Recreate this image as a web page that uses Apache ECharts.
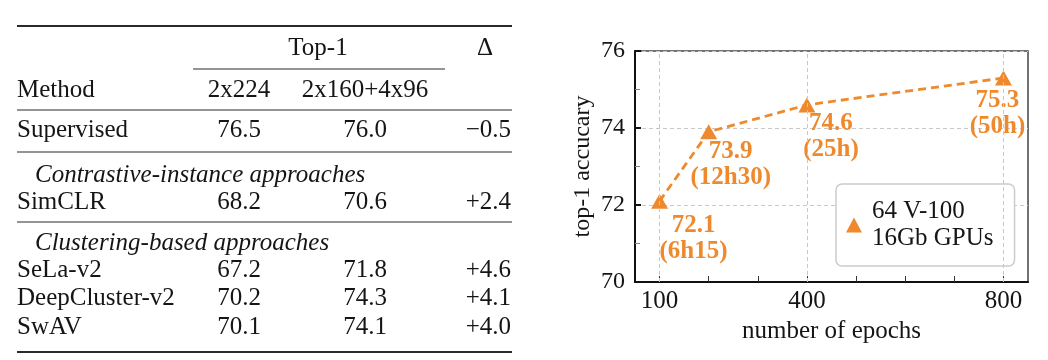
<!DOCTYPE html>
<html><head><meta charset="utf-8">
<script src="https://cdn.jsdelivr.net/npm/echarts@6/dist/echarts.min.js"></script>
<style>html,body{margin:0;padding:0;background:#fff}#c{width:1048px;height:360px}</style>
</head><body><div id="c"></div>
<script>
// ---- table data ----
const tableHeaderTop = ['Top-1', 'Δ'];
const tableHeaderCols = ['Method', '2x224', '2x160+4x96'];
const groupTitles = ['Contrastive-instance approaches', 'Clustering-based approaches'];
const methods = ['Supervised', 'SimCLR', 'SeLa-v2', 'DeepCluster-v2', 'SwAV'];
const top1_2x224 = ['76.5', '68.2', '67.2', '70.2', '70.1'];
const top1_multi = ['76.0', '70.6', '71.8', '74.3', '74.1'];
const deltas = ['−0.5', '+2.4', '+4.6', '+4.1', '+4.0'];

// ---- chart data ----
const epochs = [100, 200, 400, 800];
const accuracy = [72.1, 73.9, 74.6, 75.3];
const trainTimes = ['6h15', '12h30', '25h', '50h'];
const xLabelTicks = [100, 400, 800];
const xMinorTicks = [100, 200, 300, 400, 500, 600, 700, 800];
const legendName = '64 V-100\n16Gb GPUs';

const SERIF = '"Liberation Serif", "DejaVu Serif", serif';
const ORANGE = '#EE8A2D';
const TXT = '#151515';

// ---- table layout ----
const colX = {method: 17, c1: 239, c2: 365, delta: 511};
const rowY = {head1: 48, head2: 90, sup: 130, g1: 175, simclr: 202, g2: 243, sela: 270, dc: 298, swav: 327};
const methodRows = [rowY.sup, rowY.simclr, rowY.sela, rowY.dc, rowY.swav];
const graphics = [];
function txt(s, x, y, align, extra) {
  graphics.push({type: 'text', silent: true, style: Object.assign({
    text: s, x: x, y: y, align: align, verticalAlign: 'middle',
    font: '25px ' + SERIF, fill: TXT}, extra || {})});
}
function rule(x1, x2, y, w) {
  graphics.push({type: 'line', silent: true, shape: {x1: x1, y1: y, x2: x2, y2: y},
    style: {stroke: '#2a2a2a', lineWidth: w}});
}
rule(17, 512, 26, 2);
rule(193, 445, 69, 1);
rule(17, 512, 110, 1.2);
rule(17, 512, 152, 1.2);
rule(17, 512, 222, 1.2);
rule(17, 512, 352, 2);
txt(tableHeaderTop[0], 318, rowY.head1, 'center');
txt(tableHeaderTop[1], 485, rowY.head1, 'center');
txt(tableHeaderCols[0], colX.method, rowY.head2, 'left');
txt(tableHeaderCols[1], colX.c1, rowY.head2, 'center');
txt(tableHeaderCols[2], colX.c2, rowY.head2, 'center');
txt(groupTitles[0], 35, rowY.g1, 'left', {font: 'italic 25px ' + SERIF});
txt(groupTitles[1], 35, rowY.g2, 'left', {font: 'italic 25px ' + SERIF});
methods.forEach(function (m, i) {
  const y = methodRows[i];
  txt(m, colX.method, y, 'left');
  txt(top1_2x224[i], colX.c1, y, 'center');
  txt(top1_multi[i], colX.c2, y, 'center');
  txt(deltas[i], colX.delta, y, 'right');
});

// ---- label offsets per point (layout only) ----
const labelOffsets = [[34, 37], [22, 33], [24, 32], [-6, 36]];

const chart = echarts.init(document.getElementById('c'), null, {renderer: 'canvas'});
chart.setOption({
  animation: false,
  backgroundColor: '#fff',
  textStyle: {fontFamily: SERIF},
  graphic: graphics,
  grid: {left: 635, top: 51, width: 393, height: 231, containLabel: false, outerBoundsMode: 'none',
    show: true, borderColor: '#444', borderWidth: 1.5, backgroundColor: 'transparent'},
  legend: {
    data: [{name: legendName, icon: 'triangle'}],
    left: 836, top: 184, orient: 'vertical',
    padding: [14, 21, 14, 10],
    itemWidth: 16, itemHeight: 15,
    backgroundColor: '#fff', borderColor: '#ccc', borderWidth: 1.5, borderRadius: 6,
    textStyle: {fontFamily: SERIF, fontSize: 25, lineHeight: 27, color: TXT, padding: [0, 0, 0, 5]}
  },
  xAxis: {
    type: 'value', min: 50, max: 850,
    name: 'number of epochs', nameLocation: 'middle', nameGap: 24,
    nameTextStyle: {fontFamily: SERIF, fontSize: 25, color: TXT},
    axisLine: {show: true, lineStyle: {color: '#111', width: 2}},
    axisTick: {show: true, inside: true, length: 6, customValues: xMinorTicks, lineStyle: {color: '#333', width: 1}},
    axisLabel: {show: true, customValues: xLabelTicks, margin: 7, fontFamily: SERIF, fontSize: 25, color: TXT},
    splitLine: {show: false}
  },
  yAxis: {
    type: 'value', min: 70, max: 76, interval: 2,
    name: 'top-1 accucary', nameLocation: 'middle', nameGap: 40,
    nameTextStyle: {fontFamily: SERIF, fontSize: 24, color: TXT},
    axisLine: {show: true, lineStyle: {color: '#111', width: 2}},
    axisTick: {show: true, inside: true, length: 6, lineStyle: {color: '#111', width: 2}},
    minorTick: {show: true, splitNumber: 2, length: 5, lineStyle: {color: '#888', width: 1}},
    axisLabel: {margin: 10, fontFamily: SERIF, fontSize: 24, color: TXT},
    splitLine: {show: true, lineStyle: {color: '#c8c8c8', type: [4, 3], width: 1}}
  },
  series: [{
    name: legendName,
    type: 'line',
    data: epochs.map(function (e, i) {
      return {value: [e, accuracy[i]], label: {offset: labelOffsets[i]}};
    }),
    symbol: 'triangle', symbolSize: [17, 15],
    itemStyle: {color: ORANGE},
    lineStyle: {color: ORANGE, width: 2.8, type: [8, 5]},
    label: {
      show: true, position: 'inside',
      formatter: function (p) { return p.value[1].toFixed(1) + '\n(' + trainTimes[p.dataIndex] + ')'; },
      fontFamily: SERIF, fontWeight: 'bold', fontSize: 25, lineHeight: 26, color: ORANGE, align: 'center'
    },
    markLine: {
      silent: true, symbol: 'none', label: {show: false},
      lineStyle: {color: '#c8c8c8', type: [4, 3], width: 1},
      data: xLabelTicks.map(function (v) { return {xAxis: v}; })
    },
    z: 3
  }]
});
</script></body></html>
